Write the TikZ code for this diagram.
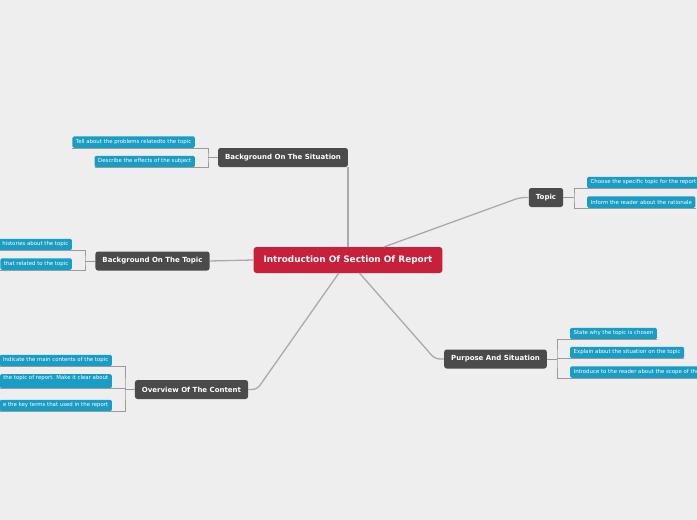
\documentclass[tikz,border=0pt]{standalone}
\usepackage{fontspec}
\setmainfont{DejaVu Sans}
\usepackage{tikz}
\usetikzlibrary{calc}
\definecolor{paper}{HTML}{EEEEEE}
\definecolor{redmain}{HTML}{C8203A}
\definecolor{darkbranch}{HTML}{4B4B4B}
\definecolor{cyanleaf}{HTML}{1A9DC4}
\definecolor{wire}{HTML}{AAAAAA}
\definecolor{bracket}{HTML}{9A9A9A}

\begin{document}
\begin{tikzpicture}[x=1pt,y=-1pt,
  central/.style={fill=redmain,text=white,rounded corners=3pt,minimum height=26pt,
    inner xsep=10pt,font=\fontsize{8.9}{10}\selectfont\bfseries},
  branch/.style={fill=darkbranch,text=white,rounded corners=2.5pt,minimum height=19pt,
    inner xsep=7pt,font=\fontsize{7}{8}\selectfont\bfseries},
  leaf/.style={fill=cyanleaf,text=white,rounded corners=1.5pt,minimum height=11.5pt,
    inner xsep=3.5pt,inner ysep=1pt,align=left,font=\fontsize{5.4}{8}\selectfont},
  wireline/.style={draw=wire,line width=1.3pt},
  brack/.style={draw=bracket,line width=0.6pt}]
  \useasboundingbox (0,0) rectangle (697,520);
  \fill[paper] (0,0) rectangle (697,520);

  % centre and branches
  \node[central] (main) at (348,260) {Introduction Of Section Of Report};
  \node[branch] (bsit) at (283,157.5) {Background On The Situation};
  \node[branch] (btop) at (152.5,261) {Background On The Topic};
  \node[branch] (topic) at (546,197.5) {Topic};
  \node[branch] (purp) at (495.5,359) {Purpose And Situation};
  \node[branch] (over) at (191.5,389.5) {Overview Of The Content};

  % main connectors
  \draw[wireline] (main.north) -- (main.north |- bsit.south);
  \draw[wireline] (main.west) -- (btop.east);
  \draw[wireline,rounded corners=5pt] (main) -- (520,197.5) -- (topic.west);
  \draw[wireline,rounded corners=5pt] (main) -- (435,359) -- (purp.west);
  \draw[wireline,rounded corners=5pt] (main) -- (257,389.5) -- (over.east);

  % leaves of background on the situation
  \node[leaf,anchor=east] (bs1) at (195,142) {Tell about the problems relatedto the topic};
  \node[leaf,anchor=east] (bs2) at (195,161.5) {Describe the effects of the subject};
  \coordinate (bsj) at (208,157.5);
  \draw[brack] (bsit.west) -- (bsj);
  \draw[brack] (bs1.south west) -| (bsj) |- (bs2.south west);

  % leaves of background on the topic
  \node[leaf,anchor=east] (bt1) at (72,244.5) {histories about the topic};
  \node[leaf,anchor=east] (bt2) at (72,264) {that related to the topic};
  \coordinate (btj) at (85,261);
  \draw[brack] (btop.west) -- (btj);
  \draw[brack] (bt1.south west) -| (btj) |- (bt2.south west);

  % leaves of topic
  \node[leaf,anchor=west] (tp1) at (587,182.5) {Choose the specific topic for the report};
  \node[leaf,anchor=west] (tp2) at (587,202) {Inform the reader about the rationale};
  \coordinate (tpj) at (574,197.5);
  \draw[brack] (topic.east) -- (tpj);
  \draw[brack] (tp1.south east) -| (tpj) |- (tp2.south east);

  % leaves of overview
  \node[leaf,anchor=east] (ov1) at (112,360.5) {Indicate the main contents of the topic};
  \node[leaf,anchor=north east] (ov2) at (112,374) {the topic of report. Make it clear about\\\mbox{}};
  \node[leaf,anchor=east] (ov3) at (112,405.5) {e the key terms that used in the report};
  \coordinate (ovj) at (125,389.5);
  \draw[brack] (over.west) -- (ovj);
  \draw[brack] (ov1.south west) -| (ovj) |- (ov3.south west);
  \draw[brack] (ov2.south west) -| (ovj);

  % leaves of purpose
  \node[leaf,anchor=west] (pp1) at (570,333.5) {State why the topic is chosen};
  \node[leaf,anchor=west] (pp2) at (570,352.5) {Explain about the situation on the topic};
  \node[leaf,anchor=west] (pp3) at (570,372) {Introduce to the reader about the scope of the report};
  \coordinate (ppj) at (557,359);
  \draw[brack] (purp.east) -- (ppj);
  \draw[brack] (pp1.south east) -| (ppj) |- (pp3.south east);
  \draw[brack] (pp2.south east) -| (ppj);
\end{tikzpicture}
\end{document}
